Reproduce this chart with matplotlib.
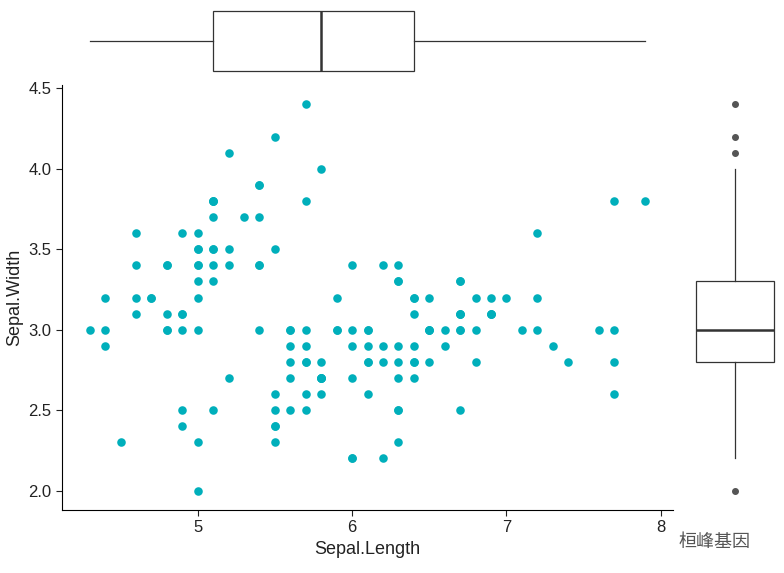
import matplotlib
matplotlib.use("Agg")
import matplotlib.pyplot as plt
import numpy as np

sepal_length = [5.1,4.9,4.7,4.6,5.0,5.4,4.6,5.0,4.4,4.9,5.4,4.8,4.8,4.3,5.8,5.7,5.4,5.1,5.7,5.1,5.4,5.1,4.6,5.1,4.8,5.0,5.0,5.2,5.2,4.7,4.8,5.4,5.2,5.5,4.9,5.0,5.5,4.9,4.4,5.1,5.0,4.5,4.4,5.0,5.1,4.8,5.1,4.6,5.3,5.0,
7.0,6.4,6.9,5.5,6.5,5.7,6.3,4.9,6.6,5.2,5.0,5.9,6.0,6.1,5.6,6.7,5.6,5.8,6.2,5.6,5.9,6.1,6.3,6.1,6.4,6.6,6.8,6.7,6.0,5.7,5.5,5.5,5.8,6.0,5.4,6.0,6.7,6.3,5.6,5.5,5.5,6.1,5.8,5.0,5.6,5.7,5.7,6.2,5.1,5.7,
6.3,5.8,7.1,6.3,6.5,7.6,4.9,7.3,6.7,7.2,6.5,6.4,6.8,5.7,5.8,6.4,6.5,7.7,7.7,6.0,6.9,5.6,7.7,6.3,6.7,7.2,6.2,6.1,6.4,7.2,7.4,7.9,6.4,6.3,6.1,7.7,6.3,6.4,6.0,6.9,6.7,6.9,5.8,6.8,6.7,6.7,6.3,6.5,6.2,5.9]
sepal_width = [3.5,3.0,3.2,3.1,3.6,3.9,3.4,3.4,2.9,3.1,3.7,3.4,3.0,3.0,4.0,4.4,3.9,3.5,3.8,3.8,3.4,3.7,3.6,3.3,3.4,3.0,3.4,3.5,3.4,3.2,3.1,3.4,4.1,4.2,3.1,3.2,3.5,3.6,3.0,3.4,3.5,2.3,3.2,3.5,3.8,3.0,3.8,3.2,3.7,3.3,
3.2,3.2,3.1,2.3,2.8,2.8,3.3,2.4,2.9,2.7,2.0,3.0,2.2,2.9,2.9,3.1,3.0,2.7,2.2,2.5,3.2,2.8,2.5,2.8,2.9,3.0,2.8,3.0,2.9,2.6,2.4,2.4,2.7,2.7,3.0,3.4,3.1,2.3,3.0,2.5,2.6,3.0,2.6,2.3,2.7,3.0,2.9,2.9,2.5,2.8,
3.3,2.7,3.0,2.9,3.0,3.0,2.5,2.9,2.5,3.6,3.2,2.7,3.0,2.5,2.8,3.2,3.0,3.8,2.6,2.2,3.2,2.8,2.8,2.7,3.3,3.2,2.8,3.0,2.8,3.0,2.8,3.8,2.8,2.8,2.6,3.0,3.4,3.1,3.0,3.1,3.1,3.1,2.7,3.2,3.3,3.0,2.5,3.0,3.4,3.0]
x_ticks = [5, 6, 7, 8]
y_ticks = [2.0, 2.5, 3.0, 3.5, 4.0, 4.5]
color = "#00AFBB"

plt.rcParams['font.family'] = ['Liberation Sans', 'DejaVu Sans']
fig = plt.figure(figsize=(7.84, 5.73), dpi=100)
W, H = 784, 573
ax = fig.add_axes([62/W, 1-510/H, (673-62)/W, (510-85)/H])
axt = fig.add_axes([62/W, 1-75/H, (673-62)/W, 68/H], sharex=ax)
axr = fig.add_axes([690/W, 1-510/H, 90/W, (510-85)/H], sharey=ax)

ax.scatter(sepal_length, sepal_width, s=38, color=color, linewidths=0)
ax.set_xlim(4.12, 8.08)
ax.set_ylim(1.88, 4.52)
ax.set_xticks(x_ticks)
ax.set_yticks(y_ticks)
ax.set_yticklabels([f"{v:.1f}" for v in y_ticks])
for s in ["top", "right"]:
    ax.spines[s].set_visible(False)
ax.tick_params(labelsize=12, colors="#222222", length=4)
ax.set_xlabel("Sepal.Length", fontsize=13, color="#222222")
ax.set_ylabel("Sepal.Width", fontsize=13, color="#222222")

bp = dict(widths=0.87, patch_artist=True,
          boxprops=dict(facecolor="white", edgecolor="#333333", linewidth=0.9),
          medianprops=dict(color="#333333", linewidth=1.8),
          whiskerprops=dict(color="#333333", linewidth=0.9),
          capprops=dict(linewidth=0),
          flierprops=dict(marker="o", markerfacecolor="#555555", markeredgecolor="#555555", markersize=4))
axt.boxplot(sepal_length, vert=False, **bp)
axt.set_ylim(0.5, 1.5)
axt.axis("off")
axr.boxplot(sepal_width, vert=True, **bp)
axr.set_xlim(0.5, 1.5)
axr.axis("off")

fig.text(0.865, 0.045, "桓峰基因", fontsize=13, color="#555555",
         family=["Noto Sans CJK SC", "DejaVu Sans"])
fig.savefig("out.png", dpi=100)
